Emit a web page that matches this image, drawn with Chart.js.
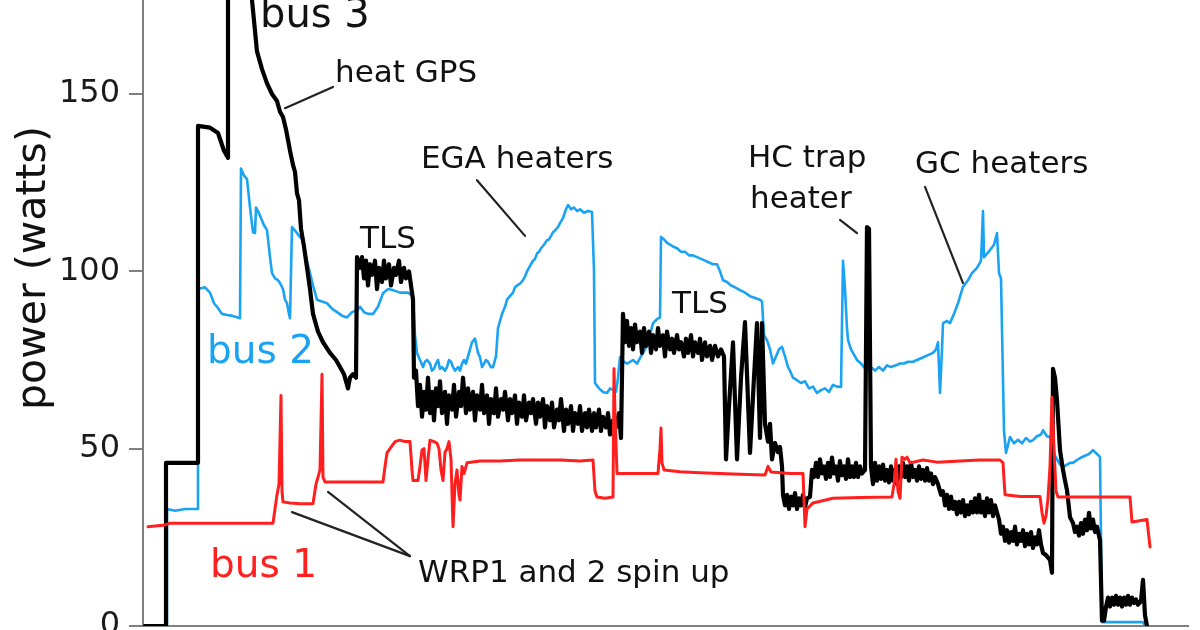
<!DOCTYPE html>
<html>
<head>
<meta charset="utf-8">
<script src="https://cdn.jsdelivr.net/npm/chart.js@4.4.1/dist/chart.umd.min.js"></script>
<style>
html,body{margin:0;padding:0;background:#fff;}
#c{display:block;}
</style>
</head>
<body>
<canvas id="c" width="1200" height="630"></canvas>
<script>
// ---- axis ----
const yTickValues = [0, 50, 100, 150];
const yTitle = "power (watts)";
const timeRange = [0, 1045];      // arbitrary elapsed-time units
const powerRange = [0, 176.5];    // watts

// ---- series: [time, watts] ----
const bus1Label = "bus 1";
const bus1Points = [
[5,28],[22,28.5],[27,29],[57,29],[87,29],[117,29],[130,29],[132,33],[134,37],[136,40],[138,65],[139,38],[140,35],
[147,34.7],[157,34.5],[170,34.5],[173,40],[175,42],[177,44],[179,71],[180,42],[182,40.6],[207,40.6],[240,40.6],
[242,45],[244,48.8],[247,50],[252,52],[257,52.4],[262,52],[267,52],[269,44],[270,41],[275,41],[277,45],[279,49.6],
[281,50],[283,41],[285,47],[287,52.4],[291,52],[294,51.5],[296,50],[298,44],[300,41],[302,49],[304,50],[306,52],
[308,47],[310,28],[312,40],[314,44],[316,37],[317,35.5],[319,45],[321,43],[324,46],[337,46.5],[357,46.5],[377,46.8],
[397,46.8],[417,46.8],[437,46.5],[450,46.8],[452,38],[454,36.4],[462,36],[470,36.4],[471,72.5],[472,60],[474,43],
[477,43],[497,43],[515,43],[517,50],[518,55.8],[519,46],[521,44],[537,43.5],[557,43.2],[577,43],[597,42.8],[622,42.6],
[625,45],[628,43.4],[647,43],[660,43],[662,28],[664,33],[670,34.7],[690,36],[717,36.2],[749,36.4],[751,40],[753,47],
[755,38],[757,36],[759,47.6],[762,47],[764,47.6],[767,46],[780,46.8],[794,46.2],[817,46.5],[837,46.8],[857,46.8],
[860,46],[862,37],[877,36.5],[897,36.5],[899,32],[901,29],[903,31],[905,36],[907,45],[909,64.5],[911,50],[913,38],
[915,36.4],[937,36.4],[957,36.4],[987,36.4],[989,29.3],[1004,30],[1007,22.3]
];

const bus2Label = "bus 2";
const bus2Points = [
[2,0],[24,0],[24,33],[32,32.5],[42,33],[55,33],[55,95],[62,95.5],[67,94],[71,91],[74,90],[79,88],[84,87.7],[89,87.5],
[97,86.8],[98,129],[101,127],[104,126],[107,118],[110,111],[112,110.8],[113,118],[115,117],[118,115],[121,113],
[124,111.6],[127,104],[129,99.5],[132,98],[135,97.5],[137,96.7],[140,95],[142,92],[144,91],[146,88],[147,86.8],
[149,112.5],[152,111.5],[156,110],[160,108.8],[163,104],[167,99.5],[170,96],[174,92],[179,91.5],[184,91],[189,89.5],
[194,88.5],[199,87.5],[204,87],[209,88.5],[214,89],[217,90],[221,88.5],[225,88],[230,88],[235,90],[240,93.8],[245,95],
[250,94.7],[257,94],[265,94],[270,93],[272,82],[274,77],[277,75],[280,73],[282,74.5],[284,75],[287,74],[289,72],[291,72.5],[293,74],[295,75],
[297,72.5],[299,73],[302,72],[304,73],[306,75],[308,74.5],[310,73],[312,72],[315,73],[317,72],[319,74],[321,75],[323,74],[325,76],[327,78],[329,80],[332,81],[335,77],[337,75.8],[339,73],[341,74],
[343,75],[345,74.5],[348,73],[350,73],[353,76],[355,84],[357,86],[359,88],[362,90],[364,92],[367,93],[370,94],[372,95.5],[374,96],[377,96.5],[380,97.5],[382,98.5],[384,100],
[387,101.5],[390,103],[392,103.5],[394,105],[396,105.5],[398,106.5],[401,107.5],[404,108.8],[406,109],[408,110],[410,111],[412,111.5],[415,112.5],[417,113.6],[420,115],
[423,117.5],[425,118.7],[428,117.5],[431,118],[434,117],[437,117.5],[441,116.5],[445,117],[449,116.7],[451,100],
[452,68.5],[456,67],[460,66],[464,65.7],[467,67],[470,66.5],[473,66],[475,70],[477,75.8],[481,74.5],[484,74],
[487,74.5],[490,75],[494,74],[497,75.5],[500,77],[504,79],[507,82],[510,85.4],[514,86.5],[517,87],[518,109.7],
[521,109],[524,108],[527,107.5],[530,107],[534,106.5],[538,105.5],[542,105.5],[546,104.5],[550,104.5],[554,104],
[558,103.5],[562,103],[566,102.5],[570,102],[574,102],[577,100],[580,97.5],[584,97],[588,96],[592,95.5],[597,94.7],
[602,94],[607,93],[612,92.5],[617,92],[619,91.5],[621,82],[624,80.6],[627,78],[630,74],[633,76],[636,78],[639,78.7],
[642,76],[645,73],[647,72],[650,70],[654,69.3],[658,68.5],[662,69],[666,67],[670,67.5],[674,65.7],[678,66.5],[682,67],
[686,66],[690,68],[694,67.5],[698,67.4],[700,103],[702,95],[704,84],[705,80.6],[708,78],[711,76.5],[714,75],[718,74],
[721,73],[724,72],[728,73],[732,72],[736,73],[740,72],[744,73.5],[748,73],[753,73.5],[757,74],[761,74],[765,74.5],
[770,74.5],[774,75],[778,75.5],[782,76],[786,76.5],[790,77],[793,78],[795,80],[797,65.7],[799,78],[800,85.4],[804,86],
[807,85.4],[811,88],[815,91],[820,95.6],[825,97.5],[829,99.5],[834,101],[838,103],[840,117],[841,104],[844,105],
[847,106],[851,107.5],[854,110.8],[856,99.5],[858,98],[861,55],[863,48.8],[867,53.3],[871,51.5],[875,52.5],[879,51.5],
[883,53],[887,52],[890,52.4],[894,53.5],[898,54],[900,55.2],[904,53.5],[907,53.3],[912,48],[917,45.5],[920,44.8],
[924,45.5],[927,46],[930,46],[934,46.8],[938,47.5],[942,48],[946,48.5],[950,49.6],[954,48.5],[957,47.6],[959,1.1],
[1000,1.1],[1002,0]
];

const bus3Label = "bus 3";
const bus3Points = [
[2,0],[23,0],[23,46],[55,46],[55,141],[67,140.5],[75,139],[81,134],[85,132],[85,200],[106,185],[109,176.5],[114,162],
[119,157],[124,153],[129,150],[134,148],[137,145],[140,143.5],[143,140],[147,134],[150,130],[152,128],[154,122],
[156,120],[158,112],[161,107],[164,101],[167,95],[170,88],[175,83],[180,80],[187,77],[193,75],[197,73],[201,71],
[205,67],[207,70],[210,71],[213,70],[214,104],
[217,101],[219,104],[221,98],[223,103],[225,96],[227,102],[229,99],[232,103],[234,95],[236,101],[239,97],[241,103],
[243,98],[246,102],[248,96],[251,101],[253,99],[256,103],[258,97],[261,101],[263,98],[266,100],[268,96],[270,92],[271,70],
[273,72],[275,62],[277,68],[279,59],[281,66],[283,61],[285,70],[287,60],[289,66],[291,58],[293,67],[295,62],[297,69],
[299,60],[302,66],[304,57],[306,65],[309,61],[311,68],[313,59],[316,66],[318,62],[320,70],[323,60],[325,67],[327,61],
[330,66],[332,58],[334,65],[337,61],[339,68],[341,60],[344,65],[346,57],[348,64],[351,60],[353,67],[355,59],[358,64],
[360,61],[362,66],[365,58],[367,64],[369,60],[372,65],[374,57],[376,63],[379,59],[381,65],[383,58],[386,63],[388,60],
[390,64],[393,57],[395,63],[397,59],[400,64],[402,56],[404,62],[407,58],[409,63],[411,56],[414,61],[416,58],[418,64],
[421,55],[423,61],[425,57],[428,62],[430,55],[432,60],[435,57],[437,62],[439,55],[442,60],[444,56],[446,61],[449,55],
[451,60],[453,56],[456,61],[458,55],[460,59],[463,56],[465,60],[467,54],[470,58],[473,56],[476,60],[478,53],[480,88],
[482,80],[484,86],[486,79],[488,84],[490,78],[492,85],[494,80],[497,83],[499,77],[501,84],[503,79],[506,83],[508,77],
[510,82],[513,78],[515,84],[517,79],[520,82],[522,76],[524,83],[527,78],[529,81],[531,77],[534,82],[536,78],[538,80],
[541,76],[543,81],[545,77],[548,82],[550,76],[552,80],[555,77],[557,81],[559,75],[562,80],[564,76],[567,79],[569,75],
[572,79],[575,76],[578,78],[581,76],
[583,47],[586,62],[590,80],[594,47],[598,70],[602,85.7],[607,48.8],[611,70],[614,85.4],[617,53],[619,85.4],[622,57],
[625,52],[627,57],[629,47],[632,51.6],[635,49],[637,50.5],[639,45],[640,37],
[642,34],[644,37],[646,33],[648,36.5],[650,34],[652,37.5],[654,33],[656,36],[658,34],[660,37],[662,33.5],[664,36],
[667,36.4],[669,44],
[671,42],[673,46],[675,42],[677,47],[679,43],[681,45],[683,41.5],[685,46],[687,42],[689,47.5],[691,43],[693,45],
[695,41],[697,46.5],[699,42.5],[701,45],[703,41.5],[705,47],[707,42],[709,45],[711,42],[713,46],[715,42],[717,45],
[719,43],[722,44],[724,112.5],[726,112],[728,45],[730,40],
[732,46],[734,41],[736,45],[738,41.5],[740,45.5],[742,41],[744,44],[746,40.5],[748,45],[750,41],[752,44],[754,40],
[756,45],[758,42],[760,46],[762,42],[764,45],[766,41],[768,46],[770,42],[772,44],[774,41],[776,45],[778,41.5],
[780,44],[782,41],[784,44.5],[786,41],[788,43],[790,40],[792,42],[795,40],[798,37],
[800,38],[802,34],[804,37],[806,33],[808,36.5],[810,33],[812,35],[814,31.5],[816,35],[818,32],[820,35.5],[822,31],
[824,34],[826,31.5],[828,35],[830,32],[832,36],[834,32],[836,37],[838,32],[840,35],[842,31],[844,36],[846,32],
[848,35.5],[850,31],[852,34],[854,32],[856,30],[858,26],
[860,28],[862,24],[864,27],[866,23.5],[868,26.5],[870,24],[872,28],[874,23],[876,26],[878,24],[880,27],[882,22.5],
[884,26],[886,23],[888,26.5],[890,22],[892,25],[894,23],[896,27],[898,23],[900,20.6],[903,20],[907,18.6],[909,15],
[910,72.5],[912,70],[914,63.7],[917,49.6],[920,44],[922,41],[924,38.3],[927,30.7],[930,29],[932,26.5],[934,28],
[936,25.5],[938,29],[940,26],[942,30],[944,27],[946,31.9],[948,27.5],[950,30],[952,26.5],[954,28],[957,24.2],
[959,1.5],[961,1.5],[963,5.4],[965,8],[967,5.5],[969,8],[971,6],[973,8.5],[975,6],[977,8],[979,5.5],[981,8],[983,6],
[985,8.5],[987,6],[989,8],[991,6.5],[993,7.5],[995,6],[998,7],[1000,13],[1002,3],[1004,0]
];

// ---- annotations: text placed at [time, watts] (left / baseline) ----
const annotationTexts = [
  {text: "bus 3", at: [117, 168.9], size: 40, color: "#111"},
  {text: "heat GPS", at: [192, 153.4], size: 31, color: "#111"},
  {text: "TLS", at: [217, 106.6], size: 31, color: "#111"},
  {text: "EGA heaters", at: [278, 129.1], size: 31, color: "#111"},
  {text: "TLS", at: [529, 88.2], size: 31, color: "#111"},
  {text: "HC trap", at: [605, 129.4], size: 31, color: "#111"},
  {text: "heater", at: [607, 117.8], size: 31, color: "#111"},
  {text: "GC heaters", at: [772, 127.7], size: 31, color: "#111"},
  {text: bus2Label, at: [64, 74.1], size: 39, color: "#1ba3f3"},
  {text: bus1Label, at: [67, 13.8], size: 39, color: "#ff2020"},
  {text: "WRP1 and 2 spin up", at: [275, 12.4], size: 31, color: "#111"}
];
const leaderLines = [
  [[190, 152.0], [142, 146.0]],
  [[334, 125.7], [382, 110.0]],
  [[697, 114.5], [714, 110.8]],
  [[782, 123.8], [820, 96.7]],
  [[149, 32.1], [267, 19.7]],
  [[185, 37.8], [267, 19.7]]
];

const FONT = '"DejaVu Sans", "Liberation Sans", sans-serif';
const toXY = pts => pts.map(p => ({x: p[0], y: p[1]}));

const annotate = {
  id: 'annotate',
  afterDraw(chart) {
    const ctx = chart.ctx, xs = chart.scales.x, ys = chart.scales.y;
    ctx.save();
    ctx.strokeStyle = '#222';
    ctx.lineWidth = 2.2;
    ctx.lineCap = 'round';
    leaderLines.forEach(l => {
      ctx.beginPath();
      ctx.moveTo(xs.getPixelForValue(l[0][0]), ys.getPixelForValue(l[0][1]));
      ctx.lineTo(xs.getPixelForValue(l[1][0]), ys.getPixelForValue(l[1][1]));
      ctx.stroke();
    });
    ctx.textAlign = 'left';
    ctx.textBaseline = 'alphabetic';
    annotationTexts.forEach(a => {
      ctx.font = a.size + 'px ' + FONT;
      ctx.fillStyle = a.color;
      ctx.fillText(a.text, xs.getPixelForValue(a.at[0]), ys.getPixelForValue(a.at[1]));
    });
    // y-axis title
    ctx.font = '41px ' + FONT;
    ctx.fillStyle = '#111';
    ctx.translate(45, 268);
    ctx.rotate(-Math.PI / 2);
    ctx.textAlign = 'center';
    ctx.fillText(yTitle, 0, 0);
    ctx.restore();
  }
};

new Chart(document.getElementById('c'), {
  type: 'line',
  data: {
    datasets: [
      {label: bus1Label, data: toXY(bus1Points), borderColor: '#ff1f1f', borderWidth: 3},
      {label: bus3Label, data: toXY(bus3Points), borderColor: '#000', borderWidth: 4.2},
      {label: bus2Label, data: toXY(bus2Points), borderColor: '#1ba3f3', borderWidth: 2.6}
    ]
  },
  options: {
    responsive: false,
    animation: false,
    devicePixelRatio: 1,
    layout: {padding: {left: 0, right: 12, top: 0, bottom: 0}},
    elements: {
      point: {radius: 0},
      line: {tension: 0, borderJoinStyle: 'round', borderCapStyle: 'round', fill: false}
    },
    plugins: {legend: {display: false}, tooltip: {enabled: false}},
    scales: {
      x: {
        type: 'linear', min: timeRange[0], max: timeRange[1],
        ticks: {display: false},
        grid: {display: false},
        border: {display: true, color: '#808080', width: 2},
        afterFit(s) { s.height = 4; s.paddingLeft = 0; s.paddingRight = 0; }
      },
      y: {
        type: 'linear', min: powerRange[0], max: powerRange[1],
        afterBuildTicks(s) { s.ticks = yTickValues.map(v => ({value: v})); },
        ticks: {font: {size: 32, family: FONT}, color: '#1a1a1a', padding: 9},
        grid: {display: true, drawOnChartArea: false, drawTicks: true, tickLength: 14, color: '#808080', lineWidth: 2},
        border: {display: true, color: '#808080', width: 2},
        afterFit(s) { s.width = 143; s.paddingTop = 0; s.paddingBottom = 0; }
      }
    }
  },
  plugins: [annotate]
});
</script>
</body>
</html>
